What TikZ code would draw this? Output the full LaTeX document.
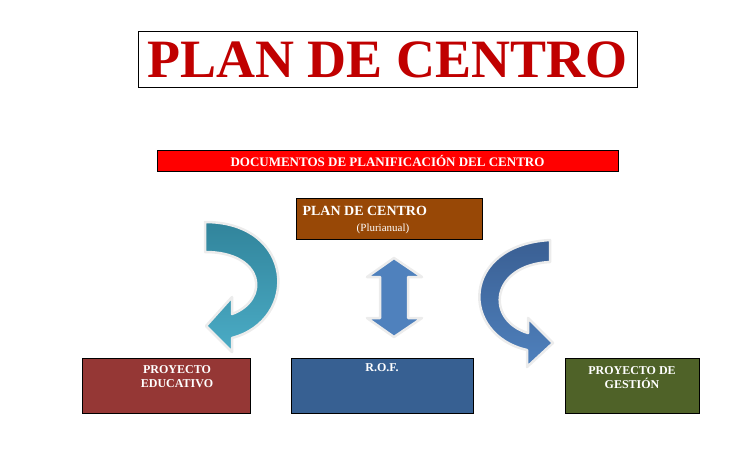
\documentclass[tikz,border=0pt]{standalone}
\usepackage{fontspec}
\setmainfont{Liberation Serif}
\definecolor{titlered}{HTML}{C00000}
\definecolor{bannerred}{HTML}{FF0000}
\definecolor{planbrown}{HTML}{984806}
\definecolor{edured}{HTML}{953735}
\definecolor{rofblue}{HTML}{376092}
\definecolor{gestgreen}{HTML}{4F6228}
\definecolor{tealdark}{HTML}{31849B}
\definecolor{teallight}{HTML}{4BACC6}
\definecolor{bluedark}{HTML}{3A5F93}
\definecolor{bluelight}{HTML}{4F81BD}
\tikzset{
  box/.style={draw=black, thick, inner sep=0pt},
  boxtext/.style={text=white, font=\bfseries\fontsize{12}{14}\selectfont, align=center},
  bigarrow/.style={draw=white!85!gray, line width=2.5pt, line join=round}
}
\begin{document}
\begin{tikzpicture}[x=1pt,y=-1pt]
  \useasboundingbox (0,0) rectangle (746,450);

  % title
  \draw[thin] (138,31) rectangle (637,87);
  \node[text=titlered, font=\bfseries\fontsize{54}{60}\selectfont] (title) at (387.5,60) {PLAN DE CENTRO};

  % banner
  \draw[box, thin, fill=bannerred] (157,150) rectangle (618,171);
  \node[text=white, font=\bfseries\fontsize{13}{15}\selectfont] (banner) at (387.5,160.5) {DOCUMENTOS DE PLANIFICACIÓN DEL CENTRO};

  % boxes
  \draw[box, fill=planbrown] (296,198) rectangle (482,239);
  \node[boxtext, anchor=west, font=\bfseries\fontsize{14}{16}\selectfont] (plan) at (299,211) {PLAN DE CENTRO};
  \node[text=white, font=\fontsize{11}{13}\selectfont] (pluri) at (383,229) {(Plurianual)};

  \draw[box, fill=edured] (82,358) rectangle (250,413);
  \node[boxtext] (edu) at (177,377) {PROYECTO\\EDUCATIVO};

  \draw[box, fill=rofblue] (291,358) rectangle (473,413);
  \node[boxtext] (rof) at (382,368) {R.O.F.};

  \draw[box, fill=gestgreen] (565,358) rectangle (699,413);
  \node[boxtext] (gest) at (632,378) {PROYECTO DE\\GESTIÓN};

  % curved arrows
  \filldraw[bigarrow, top color=tealdark, bottom color=teallight]
    (205,222) .. controls (295,222) and (300,320) .. (232,338) -- (232,352) -- (206,326)
    -- (232,297) -- (232,314) .. controls (270,300) and (265,252) .. (205,252) -- cycle;
  \filldraw[bigarrow, top color=bluedark, bottom color=bluelight]
    (550,240) .. controls (460,245) and (460,335) .. (527,350) -- (527,367) -- (553,343)
    -- (528,318) -- (528,333) .. controls (485,320) and (490,265) .. (550,262) -- cycle;

  % double arrow
  \filldraw[bigarrow, fill=bluelight]
    (394,258) -- (422,277) -- (408,277) -- (408,318) -- (422,318) -- (394,337)
    -- (367,318) -- (380,318) -- (380,277) -- (367,277) -- cycle;
\end{tikzpicture}
\end{document}
